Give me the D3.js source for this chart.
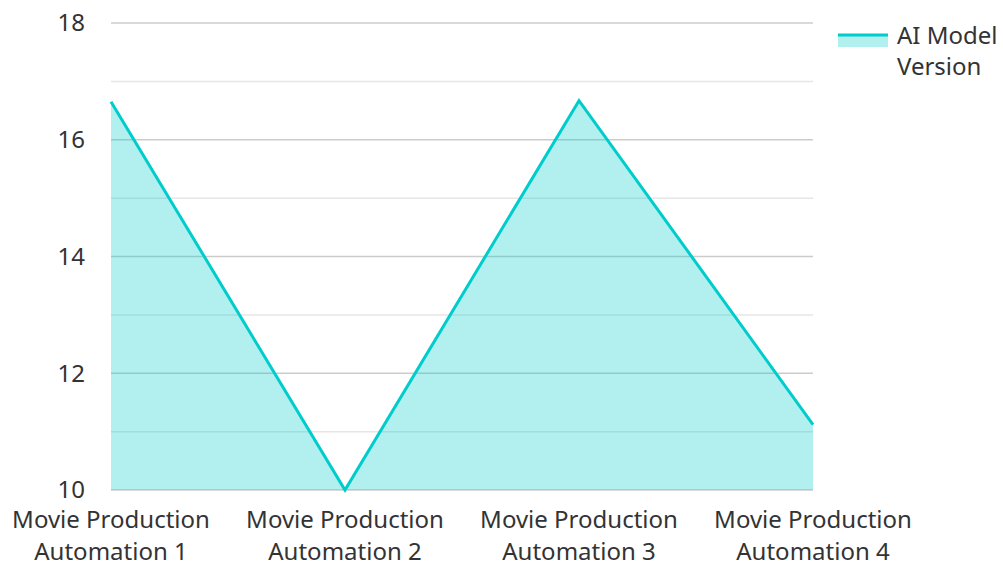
<!DOCTYPE html>
<html>
<head>
<meta charset="utf-8">
<script src="https://cdn.jsdelivr.net/npm/d3@7"></script>
<style>
  html, body { margin: 0; padding: 0; background: #fff; }
  svg { display: block; font-family: "Noto Sans", "Open Sans", sans-serif; }
</style>
</head>
<body>
<svg id="chart" width="1003" height="563"></svg>
<script>
// --- data ---
const categories = [
  ["Movie Production", "Automation 1"],
  ["Movie Production", "Automation 2"],
  ["Movie Production", "Automation 3"],
  ["Movie Production", "Automation 4"]
];
const seriesName = ["AI Model", "Version"];
const values = [16.65, 10, 16.67, 11.12];
const yTicks = [10, 12, 14, 16, 18];
const yMinorTicks = [11, 13, 15, 17];

const svg = d3.select("#chart");
const margin = { left: 111, right: 190, top: 23, bottom: 73 };
const width = 1003, height = 563;
const fontSize = 24;

const x = d3.scalePoint()
  .domain(d3.range(categories.length))
  .range([margin.left, width - margin.right]);

const y = d3.scaleLinear()
  .domain([10, 18])
  .range([height - margin.bottom, margin.top]);

const lineColor = "#00cccc";
const textColor = "#333";

// grid lines
svg.append("g")
  .selectAll("line.minor")
  .data(yMinorTicks)
  .join("line")
  .attr("x1", margin.left).attr("x2", width - margin.right)
  .attr("y1", d => y(d)).attr("y2", d => y(d))
  .attr("stroke", "#e6e6e6").attr("stroke-width", 1.5);

svg.append("g")
  .selectAll("line.major")
  .data(yTicks)
  .join("line")
  .attr("x1", margin.left).attr("x2", width - margin.right)
  .attr("y1", d => y(d)).attr("y2", d => y(d))
  .attr("stroke", "#cccccc").attr("stroke-width", 1.5);

// area + line
const pts = values.map((v, i) => [x(i), y(v)]);

svg.append("path")
  .datum(pts)
  .attr("d", d3.area().x(d => d[0]).y0(y(10)).y1(d => d[1]))
  .attr("fill", lineColor)
  .attr("fill-opacity", 0.3);

svg.append("path")
  .datum(pts)
  .attr("d", d3.line())
  .attr("fill", "none")
  .attr("stroke", lineColor)
  .attr("stroke-width", 3);

// y axis labels
svg.append("g")
  .selectAll("text")
  .data(yTicks)
  .join("text")
  .attr("x", 85)
  .attr("y", d => y(d))
  .attr("dy", "0.35em")
  .attr("text-anchor", "end")
  .attr("fill", textColor)
  .attr("font-size", fontSize)
  .text(d => d);

// x axis labels
const xl = svg.append("g")
  .selectAll("text")
  .data(categories)
  .join("text")
  .attr("text-anchor", "middle")
  .attr("fill", textColor)
  .attr("font-size", fontSize);

xl.selectAll("tspan")
  .data((d, i) => d.map(t => ({ t, i })))
  .join("tspan")
  .attr("x", d => x(d.i))
  .attr("y", (d, j) => 528 + j * 31.5)
  .text(d => d.t);

// legend
const lg = svg.append("g");
lg.append("rect")
  .attr("x", 838).attr("y", 35).attr("width", 50).attr("height", 12)
  .attr("fill", lineColor).attr("fill-opacity", 0.3);
lg.append("line")
  .attr("x1", 838).attr("x2", 888).attr("y1", 35).attr("y2", 35)
  .attr("stroke", lineColor).attr("stroke-width", 3);
lg.append("text")
  .attr("fill", textColor)
  .attr("font-size", fontSize)
  .selectAll("tspan")
  .data(seriesName)
  .join("tspan")
  .attr("x", 897)
  .attr("y", (d, j) => 44 + j * 31)
  .text(d => d);
</script>
</body>
</html>
